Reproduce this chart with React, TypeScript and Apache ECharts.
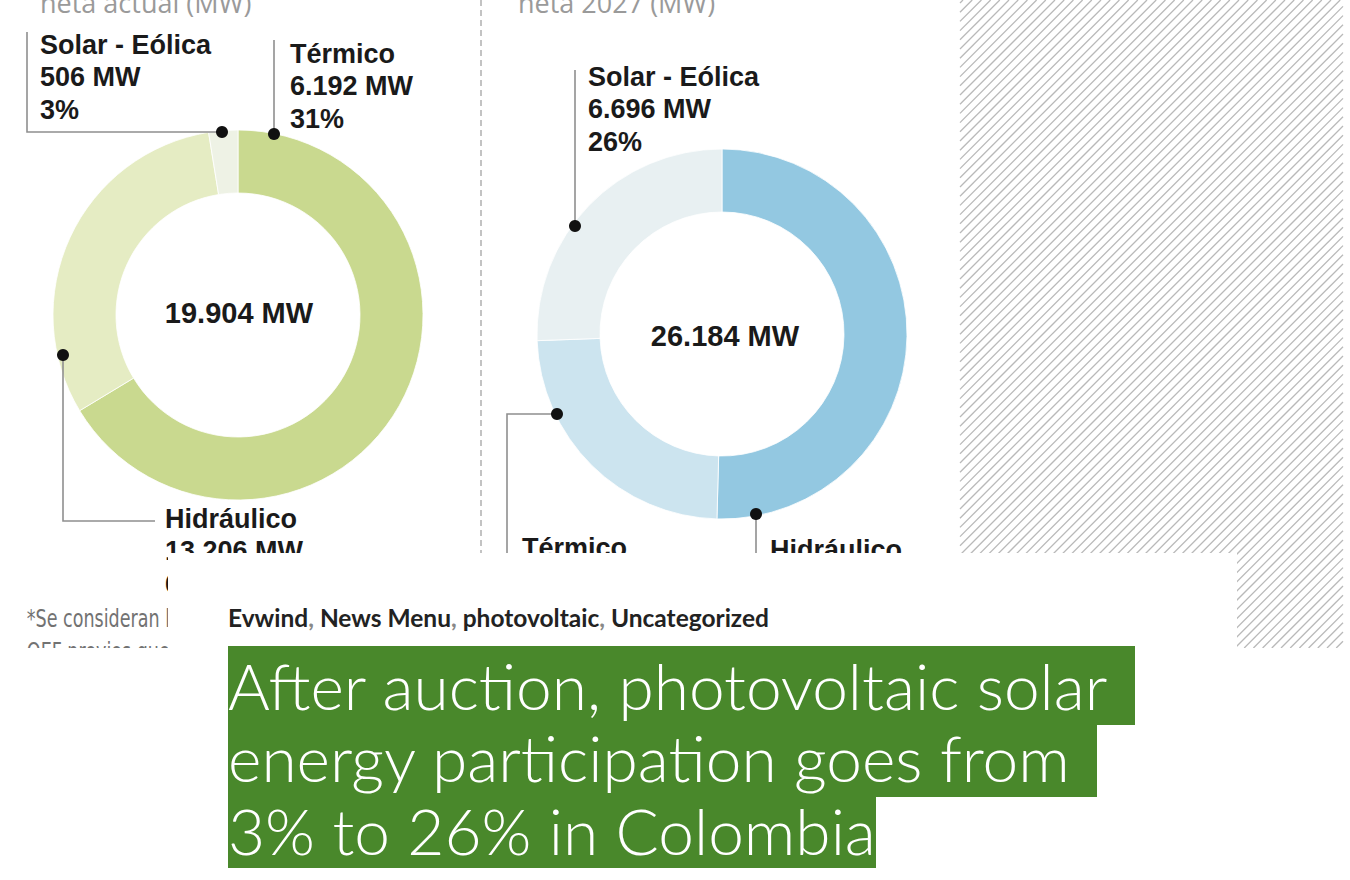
import React, { useEffect, useRef } from "react";
import * as echarts from "echarts";

// ---- data ----
const categories = ["Hidráulico", "Térmico", "Solar - Eólica"];
const actualValues = [13206, 6192, 506];
const futureValues = [13206, 6282, 6696];
const actualColors = ["#c9d98f", "#e5ecc3", "#eef2e5"];
const futureColors = ["#93c8e1", "#cce4ef", "#e8f0f2"];
const subtitles = ["neta actual (MW)", "neta 2027 (MW)"];
const tags = ["Evwind", "News Menu", "photovoltaic", "Uncategorized"];
const titleLines = [
  "After auction, photovoltaic solar ",
  "energy participation goes from ",
  "3% to 26% in Colombia",
];
const footnoteLines = ["*Se consideran los proyectos con", "OEF previos que"];

const LABEL_FONT = "'Liberation Sans', Arial, sans-serif";
const SUB_FONT = "'Open Sans', 'Noto Sans', sans-serif";
const fmt = (v: number) => String(v).replace(/\B(?=(\d{3})+(?!\d))/g, ".");
const sum = (a: number[]) => a.reduce((s, v) => s + v, 0);

function txt(
  x: number,
  baseline: number,
  s: string,
  size: number,
  weight: number | string,
  fill: string,
  family = LABEL_FONT,
  align = "left",
  z = 10,
  extra: any = {}
) {
  return {
    type: "text",
    x,
    y: baseline - 0.35 * size,
    z,
    ...extra,
    style: {
      text: s,
      font: `${weight} ${size}px ${family}`,
      fill,
      align,
      verticalAlign: "middle",
    },
  };
}

const LINE_H = 32.5;
const LABEL_SIZE = 27;
function labelBlock(x: number, baseline: number, idx: number, values: number[], nLines = 3) {
  const total = sum(values);
  const lines = [
    categories[idx],
    `${fmt(values[idx])} MW`,
    `${Math.round((values[idx] / total) * 100)}%`,
  ].slice(0, nLines);
  return {
    type: "text",
    x,
    y: baseline - 0.35 * LABEL_SIZE - LINE_H / 2,
    z: 10,
    style: {
      text: lines.join("\n"),
      font: `700 ${LABEL_SIZE}px ${LABEL_FONT}`,
      lineHeight: LINE_H,
      fill: "#1a1a1a",
      align: "left",
      verticalAlign: "top",
    },
  };
}

const LEADER = "#8f8f8f";
function leader(points: number[][]) {
  const dot = points[0];
  return [
    {
      type: "polyline",
      z: 8,
      shape: { points },
      style: { stroke: LEADER, lineWidth: 1.6, fill: "none" },
    },
    {
      type: "circle",
      z: 9,
      shape: { cx: dot[0], cy: dot[1], r: 6 },
      style: { fill: "#111" },
    },
  ];
}

function hatch() {
  const x0 = 960, x1 = 1343, y0 = 0, y1 = 648, step = 9.2;
  const out: any[] = [];
  for (let c = x0 + y0 + 3; c < x1 + y1; c += step) {
    const xs = Math.max(x0, c - y1);
    const xe = Math.min(x1, c - y0);
    if (xe - xs < 0.5) continue;
    out.push({
      type: "line",
      z: 5,
      shape: { x1: xs, y1: c - xs, x2: xe, y2: c - xe },
      style: { stroke: "#b9b9b9", lineWidth: 1.3 },
    });
  }
  return out;
}

export default function App() {
  const ref = useRef<HTMLDivElement>(null);
  useEffect(() => {
    if (!ref.current) return;
    const chart = echarts.init(ref.current, undefined, { renderer: "svg" });

    const mkPie = (values: number[], colors: string[], center: number[]) => ({
      type: "pie",
      z: 2,
      center,
      radius: [122, 185],
      startAngle: 90,
      clockwise: true,
      label: { show: false },
      labelLine: { show: false },
      emphasis: { disabled: true },
      itemStyle: { borderColor: "#ffffff", borderWidth: 0.8 },
      data: values.map((v, i) => ({
        name: categories[i],
        value: v,
        itemStyle: { color: colors[i] },
      })),
    });

    const TAG_FONT = `700 24.5px Lato, sans-serif`;
    const tagRich: any = {
      a: { font: TAG_FONT, fill: "#222", color: "#222" },
      c: { font: TAG_FONT, fill: "#888", color: "#888" },
    };
    const tagText = tags.map((t) => `{a|${t}}`).join("{c|, }");

    const titleBoxes = [
      [228, 646, 907, 79],
      [228, 725, 869, 72],
      [228, 797, 648, 71],
    ];
    const titleBaselines = [710, 782, 855];

    const graphics: any[] = [
      // subtitles (cut at top)
      {
        type: "text",
        x: 40,
        y: 13 - 0.385 * 27,
        z: 10,
        style: { text: subtitles[0], font: `400 27px ${SUB_FONT}`, fill: "#9a9a9a", verticalAlign: "middle" },
      },
      {
        type: "text",
        x: 518,
        y: 13 - 0.385 * 27,
        z: 10,
        style: { text: subtitles[1], font: `400 27px ${SUB_FONT}`, fill: "#9a9a9a", verticalAlign: "middle" },
      },
      // dashed separator
      {
        type: "line",
        z: 6,
        shape: { x1: 481, y1: 0, x2: 481, y2: 553 },
        style: { stroke: "#b0b0b0", lineWidth: 1.5, lineDash: [6, 4] },
      },
      // centre totals
      txt(239, 323, `${fmt(sum(actualValues))} MW`, 29, 700, "#1a1a1a", LABEL_FONT, "center"),
      txt(725, 346, `${fmt(sum(futureValues))} MW`, 29, 700, "#1a1a1a", LABEL_FONT, "center"),
      // left labels
      labelBlock(40, 54, 2, actualValues),
      labelBlock(290, 63, 1, actualValues),
      labelBlock(165, 528, 0, actualValues),
      // right labels (lower lines are hidden under the article box)
      labelBlock(588, 86, 2, futureValues),
      labelBlock(522, 557, 1, futureValues, 1),
      labelBlock(770, 559, 0, futureValues, 1),
      // leaders
      ...leader([[222, 132], [27, 132], [27, 32]]),
      ...leader([[274, 134], [274, 40]]),
      ...leader([[63, 355], [63, 521], [155, 521]]),
      ...leader([[575, 226], [575, 70]]),
      ...leader([[557, 414], [507, 414], [507, 600]]),
      ...leader([[756, 514], [756, 600]]),
      // footnote
      {
        type: "text",
        x: 22,
        y: 628 - 0.385 * 25 - 16.5,
        z: 10,
        scaleX: 0.78,
        originX: 22,
        style: {
          text: footnoteLines.join("\n"),
          font: "400 25px 'Liberation Sans Narrow', 'DejaVu Sans Condensed', 'DejaVu Sans', sans-serif",
          lineHeight: 33,
          fill: "#727272",
          verticalAlign: "top",
        },
      },
      // hatch
      ...hatch(),
      // white covers
      { type: "rect", z: 50, shape: { x: 168, y: 553, width: 1069, height: 327 }, style: { fill: "#fff" } },
      { type: "rect", z: 50, shape: { x: 0, y: 648, width: 1350, height: 232 }, style: { fill: "#fff" } },
      // tags
      {
        type: "text",
        z: 60,
        x: 228,
        y: 627 - 0.385 * 24.5,
        style: { text: tagText, rich: tagRich, font: TAG_FONT, verticalAlign: "middle" },
      },
      // title boxes
      ...titleBoxes.map((b) => ({
        type: "rect",
        z: 60,
        shape: { x: b[0], y: b[1], width: b[2], height: b[3] },
        style: { fill: "#49882b" },
      })),
      ...titleLines.map((l, i) => ({
        type: "text",
        z: 61,
        x: 228,
        y: titleBaselines[i] - 0.385 * 64,
        style: { text: l, font: "300 64px Lato, sans-serif", fill: "#ffffff", verticalAlign: "middle" },
      })),
    ];

    chart.setOption({
      animation: false,
      backgroundColor: "#ffffff",
      series: [
        mkPie(actualValues, actualColors, [238, 315]),
        mkPie(futureValues, futureColors, [722, 334]),
      ],
      graphic: { elements: graphics },
    });
    return () => chart.dispose();
  }, []);
  return (
    <div
      ref={ref}
      style={{ position: "absolute", left: 0, top: 0, width: 1350, height: 880 }}
    />
  );
}
